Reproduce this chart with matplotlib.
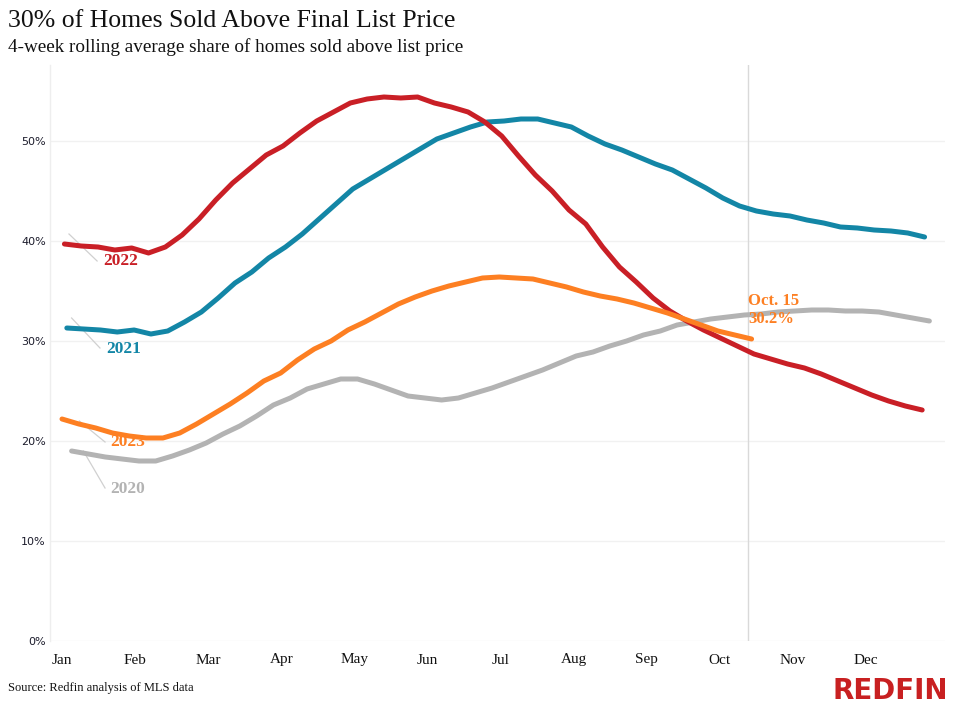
import matplotlib
matplotlib.use("Agg")
import matplotlib.pyplot as plt
import pandas as pd
import numpy as np

# ---------------- data (weekly, 4-week rolling share sold above list, %) -------------
start_2020 = "2020-01-05"
start_2021 = "2021-01-03"
start_2022 = "2022-01-02"
start_2023 = "2023-01-01"

vals_2020 = [19.0, 18.7, 18.4, 18.2, 18.0, 18.0, 18.5, 19.1, 19.8, 20.7, 21.5, 22.5, 23.6,
             24.3, 25.2, 25.7, 26.2, 26.2, 25.7, 25.1, 24.5, 24.3, 24.1, 24.3, 24.8, 25.3,
             25.9, 26.5, 27.1, 27.8, 28.5, 28.9, 29.5, 30.0, 30.6, 31.0, 31.6, 31.9, 32.2,
             32.4, 32.6, 32.7, 32.9, 33.0, 33.1, 33.1, 33.0, 33.0, 32.9, 32.6, 32.3, 32.0]
vals_2021 = [31.3, 31.2, 31.1, 30.9, 31.1, 30.7, 31.0, 31.9, 32.9, 34.3, 35.8, 36.9, 38.3,
             39.4, 40.7, 42.2, 43.7, 45.2, 46.2, 47.2, 48.2, 49.2, 50.2, 50.8, 51.4, 51.9,
             52.0, 52.2, 52.2, 51.8, 51.4, 50.5, 49.7, 49.1, 48.4, 47.7, 47.1, 46.2, 45.3,
             44.3, 43.5, 43.0, 42.7, 42.5, 42.1, 41.8, 41.4, 41.3, 41.1, 41.0, 40.8, 40.4]
vals_2022 = [39.7, 39.5, 39.4, 39.1, 39.3, 38.8, 39.4, 40.6, 42.2, 44.1, 45.8, 47.2, 48.6,
             49.5, 50.8, 52.0, 52.9, 53.8, 54.2, 54.4, 54.3, 54.4, 53.8, 53.4, 52.9, 51.9,
             50.5, 48.5, 46.6, 45.0, 43.1, 41.7, 39.4, 37.4, 35.9, 34.3, 33.0, 32.0, 31.1,
             30.3, 29.5, 28.7, 28.2, 27.7, 27.3, 26.7, 26.0, 25.3, 24.6, 24.0, 23.5, 23.1]
vals_2023 = [22.2, 21.7, 21.3, 20.8, 20.5, 20.3, 20.3, 20.8, 21.7, 22.7, 23.7, 24.8, 26.0,
             26.8, 28.1, 29.2, 30.0, 31.1, 31.9, 32.8, 33.7, 34.4, 35.0, 35.5, 35.9, 36.3,
             36.4, 36.3, 36.2, 35.8, 35.4, 34.9, 34.5, 34.2, 33.8, 33.3, 32.8, 32.2, 31.6,
             31.0, 30.6, 30.2]

months = ["Jan", "Feb", "Mar", "Apr", "May", "Jun", "Jul", "Aug", "Sep", "Oct", "Nov", "Dec"]
y_ticks = [0, 10, 20, 30, 40, 50]
title = "30% of Homes Sold Above Final List Price"
subtitle = "4-week rolling average share of homes sold above list price"
source = "Source: Redfin analysis of MLS data"
last_label = "Oct. 15\n30.2%"

colors = {"2020": "#B3B3B3", "2021": "#1386A6", "2022": "#C91F26", "2023": "#FD7F22"}


def doy(start, n):
    d = pd.date_range(start, periods=n, freq="7D")
    return np.asarray(d.dayofyear - 1, dtype=float)


series = {
    "2020": (doy(start_2020, len(vals_2020)), vals_2020),
    "2021": (doy(start_2021, len(vals_2021)), vals_2021),
    "2022": (doy(start_2022, len(vals_2022)), vals_2022),
    "2023": (doy(start_2023, len(vals_2023)), vals_2023),
}

fig = plt.figure(figsize=(9.58, 7.10), dpi=100)
ax = fig.add_axes([50 / 958, 1 - 641 / 710, (945 - 50) / 958, (641 - 65) / 710])

ax.set_xlim(-5, 367.5)
ax.set_ylim(0, 57.6)

for yv in y_ticks:
    ax.axhline(yv, color="#f1f1f1", lw=1.0, zorder=0)

order = ["2020", "2021", "2022", "2023"]
for k in order:
    x, v = series[k]
    ax.plot(x, v, color=colors[k], lw=3.6, solid_capstyle="round",
            solid_joinstyle="round", zorder=3)

# vertical marker at latest 2023 data point
x23, v23 = series["2023"]
ax.axvline(x23[-1] - 1.5, color="#d9d9d9", lw=1.0, zorder=1)

# year labels with leader lines (leader start, leader end, text left/center)
lab_font = dict(family="Liberation Serif", fontweight="bold", fontsize=12.5)
label_specs = {
    "2022": ((2.9, 40.7), (14.6, 38.0), (17.0, 38.0)),
    "2021": ((4.0, 32.3), (15.8, 29.3), (18.3, 29.2)),
    "2023": ((7.2, 22.0), (17.9, 19.9), (20.0, 19.9)),
    "2020": ((8.9, 19.0), (17.9, 15.3), (20.0, 15.2)),
}
for k, (p0, p1, pt) in label_specs.items():
    ax.plot([p0[0], p1[0]], [p0[1], p1[1]], color="#d0d0d0", lw=0.9, zorder=1)
    ax.text(pt[0], pt[1], k, color=colors[k], ha="left", va="center", zorder=2, **lab_font)

ax.text(x23[-1] - 1.5, v23[-1] + 1.2, last_label, color=colors["2023"], ha="left",
        va="bottom", linespacing=1.2, family="Liberation Serif", fontweight="bold",
        fontsize=12, zorder=4)

# axes styling
for s in ["top", "right", "bottom"]:
    ax.spines[s].set_visible(False)
ax.spines["left"].set_color("#eeeeee")
ax.spines["left"].set_linewidth(1.0)

ax.set_yticks(y_ticks)
ax.set_yticklabels([f"{t}%" for t in y_ticks], family="DejaVu Sans", fontsize=8,
                   color="#1c1c2c")
ax.set_xticks([i * 365 / 12 for i in range(12)])
ax.set_xticklabels(months, family="Liberation Serif", fontsize=11, color="#111111")
ax.tick_params(axis="y", length=0, pad=3)
ax.tick_params(axis="x", length=0, pad=9)

fig.text(8 / 958, 1 - 21 / 710, title, family="Liberation Serif", fontsize=18.5,
         color="#111111", ha="left", va="center")
fig.text(8 / 958, 1 - 47 / 710, subtitle, family="Liberation Serif", fontsize=13.8,
         color="#111111", ha="left", va="center")
fig.text(8 / 958, 1 - 688 / 710, source, family="Liberation Serif", fontsize=9,
         color="#111111", ha="left", va="center")
fig.text(948 / 958, 1 - 691 / 710, "REDFIN", family=["Liberation Sans Narrow", "DejaVu Sans"],
         fontweight="bold", fontsize=20, color="#C82021", ha="right", va="center")

fig.savefig("out.png", dpi=100)
